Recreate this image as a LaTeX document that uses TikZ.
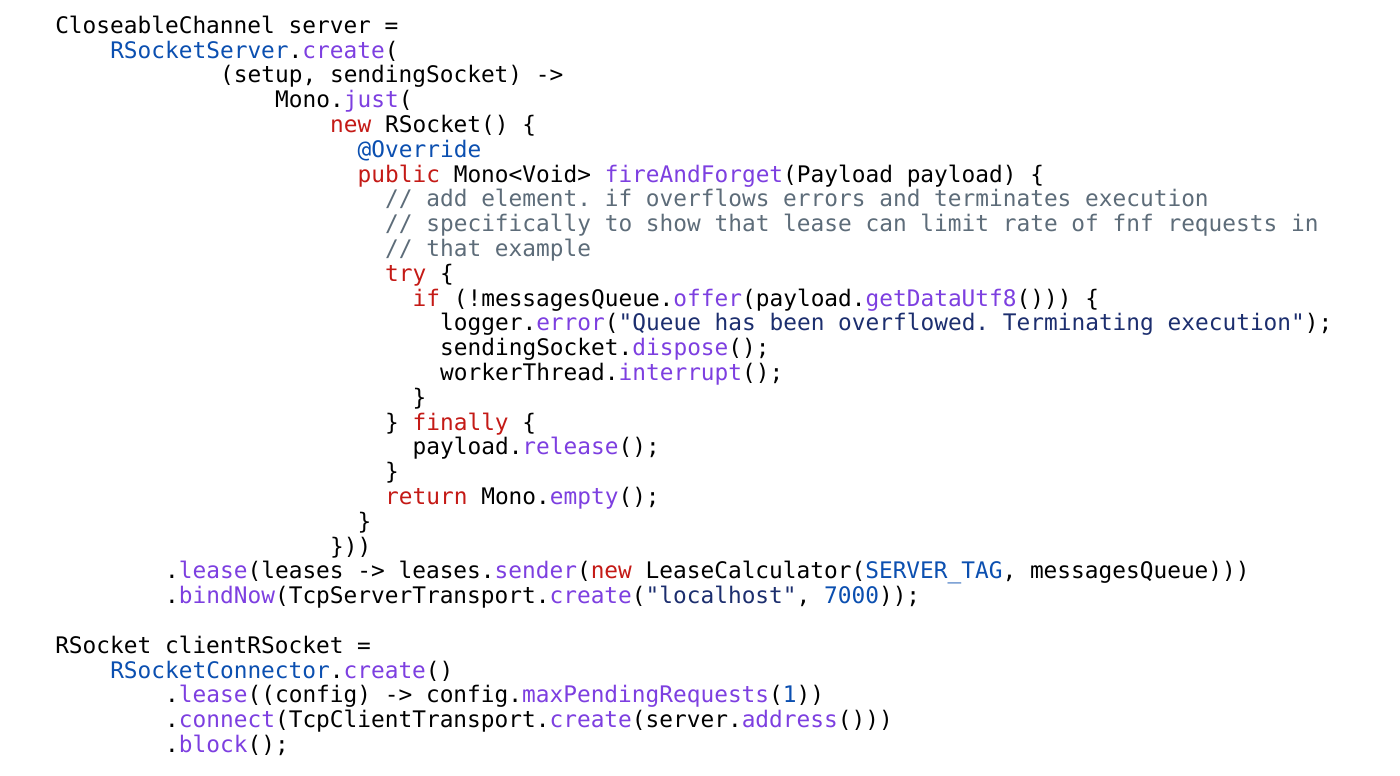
\documentclass[tikz,border=0pt]{standalone}
\usepackage{fontspec}
\setmonofont{DejaVu Sans Mono}
\definecolor{kw}{HTML}{C41A16}
\definecolor{mt}{HTML}{7D3FE0}
\definecolor{bl}{HTML}{0B4FB0}
\definecolor{cm}{HTML}{5D6C79}
\definecolor{st}{HTML}{1C2E6E}
\newcommand\K[1]{\textcolor{kw}{#1}}
\newcommand\M[1]{\textcolor{mt}{#1}}
\newcommand\B[1]{\textcolor{bl}{#1}}
\newcommand\Cm[1]{\textcolor{cm}{#1}}
\newcommand\Sg[1]{\textcolor{st}{#1}}
\newcommand\Ln[3]{\node[codeline] (l#1) at ({41.25pt+#2*10.31pt},{-24.9pt-#1*18.6pt}) {#3};}
\begin{document}
\begin{tikzpicture}[codeline/.style={anchor=base west,inner sep=0pt,font=\ttfamily\fontsize{17.1pt}{18.6pt}\selectfont}]
\useasboundingbox (0,0) rectangle (1050pt,-581.25pt);
\Ln{0}{0}{CloseableChannel server =}
\Ln{1}{4}{\B{RSocketServer}.\M{create}(}
\Ln{2}{12}{(setup, sendingSocket) ->}
\Ln{3}{16}{Mono.\M{just}(}
\Ln{4}{20}{\K{new} RSocket() \{}
\Ln{5}{22}{\B{@Override}}
\Ln{6}{22}{\K{public} Mono<Void> \M{fireAndForget}(Payload payload) \{}
\Ln{7}{24}{\Cm{// add element. if overflows errors and terminates execution}}
\Ln{8}{24}{\Cm{// specifically to show that lease can limit rate of fnf requests in}}
\Ln{9}{24}{\Cm{// that example}}
\Ln{10}{24}{\K{try} \{}
\Ln{11}{26}{\K{if} (!messagesQueue.\M{offer}(payload.\M{getDataUtf8}())) \{}
\Ln{12}{28}{logger.\M{error}(\Sg{"Queue has been overflowed. Terminating execution"});}
\Ln{13}{28}{sendingSocket.\M{dispose}();}
\Ln{14}{28}{workerThread.\M{interrupt}();}
\Ln{15}{26}{\}}
\Ln{16}{24}{\} \K{finally} \{}
\Ln{17}{26}{payload.\M{release}();}
\Ln{18}{24}{\}}
\Ln{19}{24}{\K{return} Mono.\M{empty}();}
\Ln{20}{22}{\}}
\Ln{21}{20}{\}))}
\Ln{22}{8}{.\M{lease}(leases -> leases.\M{sender}(\K{new} LeaseCalculator(\B{SERVER\_TAG}, messagesQueue)))}
\Ln{23}{8}{.\M{bindNow}(TcpServerTransport.\M{create}(\Sg{"localhost"}, \B{7000}));}
\Ln{25}{0}{RSocket clientRSocket =}
\Ln{26}{4}{\B{RSocketConnector}.\M{create}()}
\Ln{27}{8}{.\M{lease}((config) -> config.\M{maxPendingRequests}(\B{1}))}
\Ln{28}{8}{.\M{connect}(TcpClientTransport.\M{create}(server.\M{address}()))}
\Ln{29}{8}{.\M{block}();}
\end{tikzpicture}
\end{document}
